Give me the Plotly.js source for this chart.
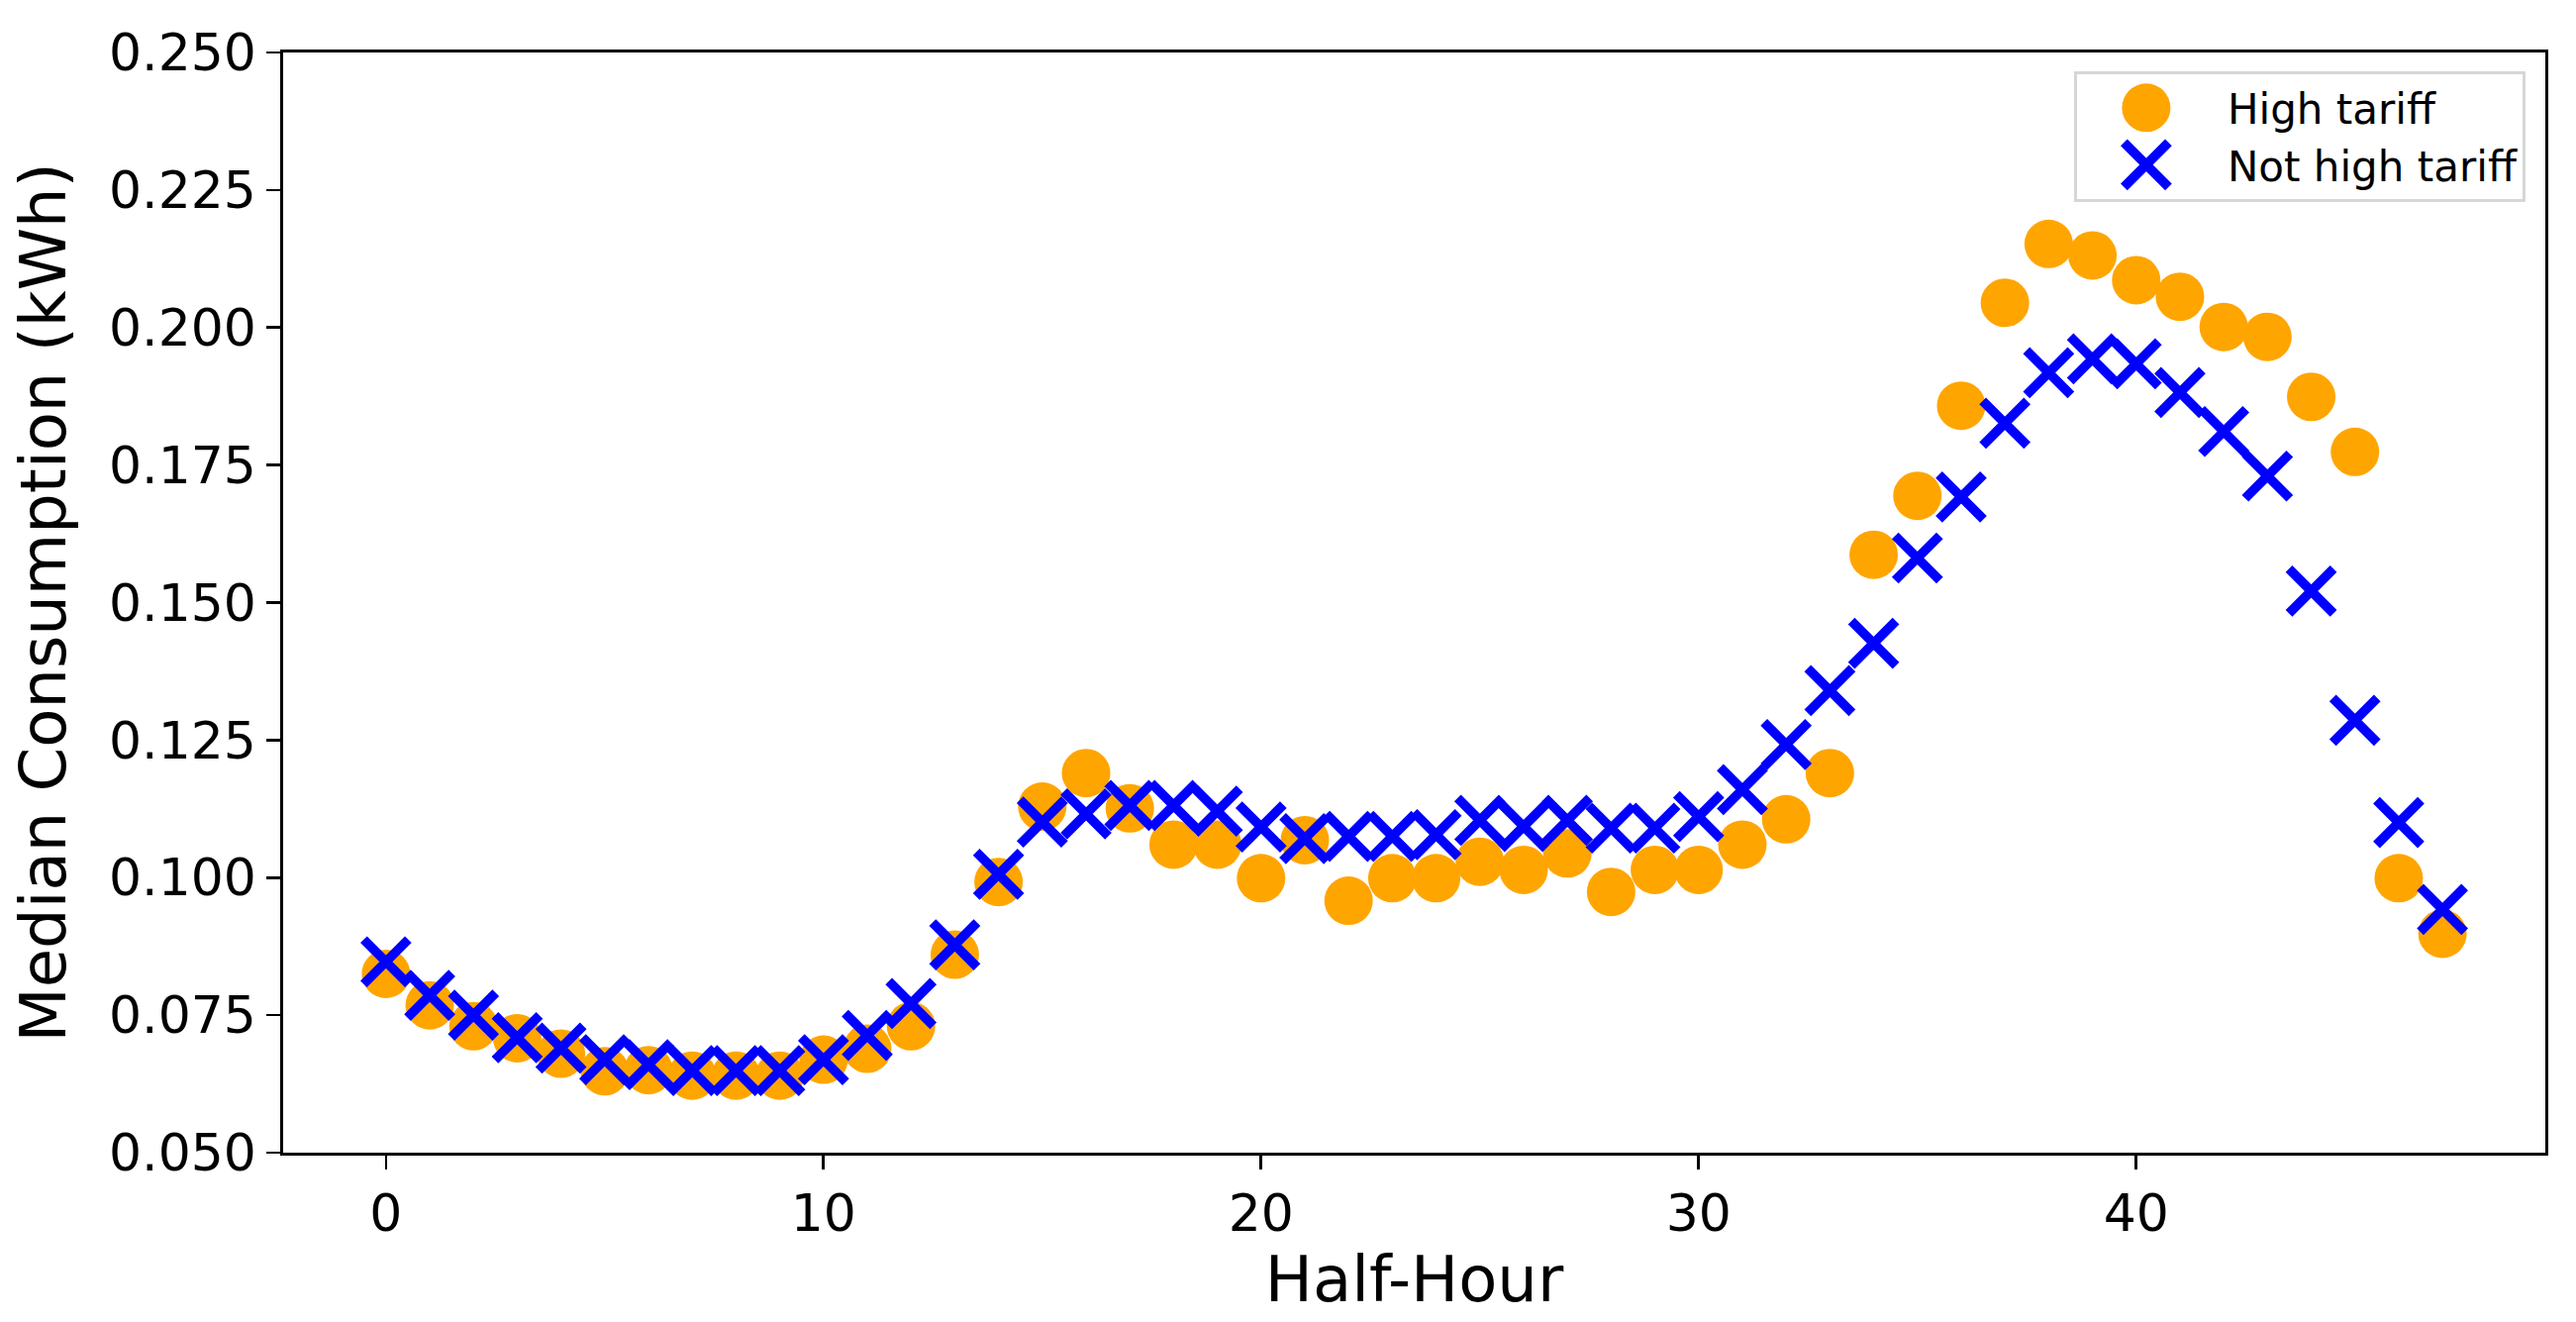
<!DOCTYPE html>
<html>
<head>
<meta charset="utf-8">
<script src="https://cdn.plot.ly/plotly-3.0.1.min.js"></script>
<style>
  html, body { margin: 0; padding: 0; background: #ffffff; }
  #chart { width: 2602px; height: 1335px; }
</style>
</head>
<body>
<div id="chart"></div>
<script>
// Half-hour index
var halfHours = [0,1,2,3,4,5,6,7,8,9,10,11,12,13,14,15,16,17,18,19,20,21,22,23,
                 24,25,26,27,28,29,30,31,32,33,34,35,36,37,38,39,40,41,42,43,44,45,46,47];

// Median consumption (kWh), high tariff
var highTariff = [0.0825,0.0768,0.0730,0.0708,0.0680,0.0648,0.0650,0.0640,0.0640,0.0640,
                  0.0669,0.0689,0.0730,0.0860,0.0992,0.1129,0.1190,0.1126,0.1060,0.1060,
                  0.0999,0.1068,0.0958,0.0999,0.0999,0.1029,0.1014,0.1044,0.0974,0.1014,
                  0.1014,0.1060,0.1106,0.1190,0.1587,0.1694,0.1858,0.2045,0.2152,0.2131,
                  0.2086,0.2056,0.2001,0.1983,0.1874,0.1774,0.0999,0.0898];

// Median consumption (kWh), not high tariff
var notHighTariff = [0.0847,0.0786,0.0750,0.0709,0.0690,0.0669,0.0660,0.0649,0.0649,0.0649,
                     0.0669,0.0713,0.0771,0.0878,0.1006,0.1101,0.1116,0.1131,0.1131,0.1121,
                     0.1092,0.1071,0.1075,0.1075,0.1078,0.1104,0.1093,0.1104,0.1090,0.1090,
                     0.1111,0.1160,0.1242,0.1340,0.1426,0.1581,0.1692,0.1826,0.1918,0.1943,
                     0.1934,0.1882,0.1811,0.1730,0.1521,0.1286,0.1100,0.0942];

var seriesNames = ['High tariff', 'Not high tariff'];
var xTicks = [0, 10, 20, 30, 40];
var yTicks = [0.050, 0.075, 0.100, 0.125, 0.150, 0.175, 0.200, 0.225, 0.250];

var FONT = 'DejaVu Sans, Liberation Sans, sans-serif';
var CIRCLE_SIZE = 49;
var X_SIZE = 45;
var X_LINE = 9.5;

var data = [
  {
    type: 'scatter', mode: 'markers', name: seriesNames[0],
    x: halfHours, y: highTariff,
    marker: { symbol: 'circle', size: CIRCLE_SIZE, color: '#FFA500', line: { width: 0 } }
  },
  {
    type: 'scatter', mode: 'markers', name: seriesNames[1],
    x: halfHours, y: notHighTariff,
    marker: { symbol: 'x-thin-open', size: X_SIZE, color: '#0000FF',
              line: { width: X_LINE, color: '#0000FF' } }
  }
];

var axisCommon = {
  showgrid: false, zeroline: false,
  showline: true, linecolor: '#000000', linewidth: 2.7, mirror: true,
  ticks: 'outside', ticklen: 14, tickwidth: 2.7, tickcolor: '#000000',
  tickfont: { family: FONT, size: 52, color: '#000000' }
};

var layout = {
  width: 2602, height: 1335,
  margin: { l: 286, r: 31, t: 53, b: 171, pad: 0 },
  paper_bgcolor: '#ffffff', plot_bgcolor: '#ffffff',
  font: { family: FONT, color: '#000000' },
  showlegend: true,
  xaxis: Object.assign({}, axisCommon, {
    range: [-2.35, 49.35],
    tickmode: 'array', tickvals: xTicks, ticktext: xTicks.map(String),
    title: { text: 'Half-Hour', font: { family: FONT, size: 64, color: '#000000' }, standoff: 8 }
  }),
  yaxis: Object.assign({}, axisCommon, {
    range: [0.05, 0.25],
    tickmode: 'array', tickvals: yTicks, ticktext: yTicks.map(function(v){ return v.toFixed(3); }),
    title: { text: 'Median Consumption (kWh)', font: { family: FONT, size: 64, color: '#000000' }, standoff: 23 }
  }),
  legend: {
    x: 0.9912, y: 0.9829, xanchor: 'right', yanchor: 'top',
    bgcolor: 'rgba(255,255,255,0.8)', bordercolor: '#d6d6d6', borderwidth: 3,
    font: { family: FONT, size: 42, color: '#000000' },
    itemwidth: 142, tracegroupgap: 0
  }
};

Plotly.newPlot('chart', data, layout, { staticPlot: true, displayModeBar: false }).then(function (gd) {
  // enlarge legend symbols to match the plotted marker sizes (Plotly caps them at 16px)
  var scales = [CIRCLE_SIZE / 16, X_SIZE / 16];
  var strokes = [0, X_LINE];
  var items = gd.querySelectorAll('.legend .traces');
  items.forEach(function (tr, i) {
    var p = tr.querySelector('.legendpoints path.scatterpts');
    if (!p) return;
    var t = p.getAttribute('transform') || '';
    p.setAttribute('transform', 'translate(-6,0) ' + t + ' scale(' + scales[i] + ')');
    if (strokes[i] > 0) p.style.strokeWidth = (strokes[i] / scales[i]) + 'px';
  });
});
</script>
</body>
</html>
